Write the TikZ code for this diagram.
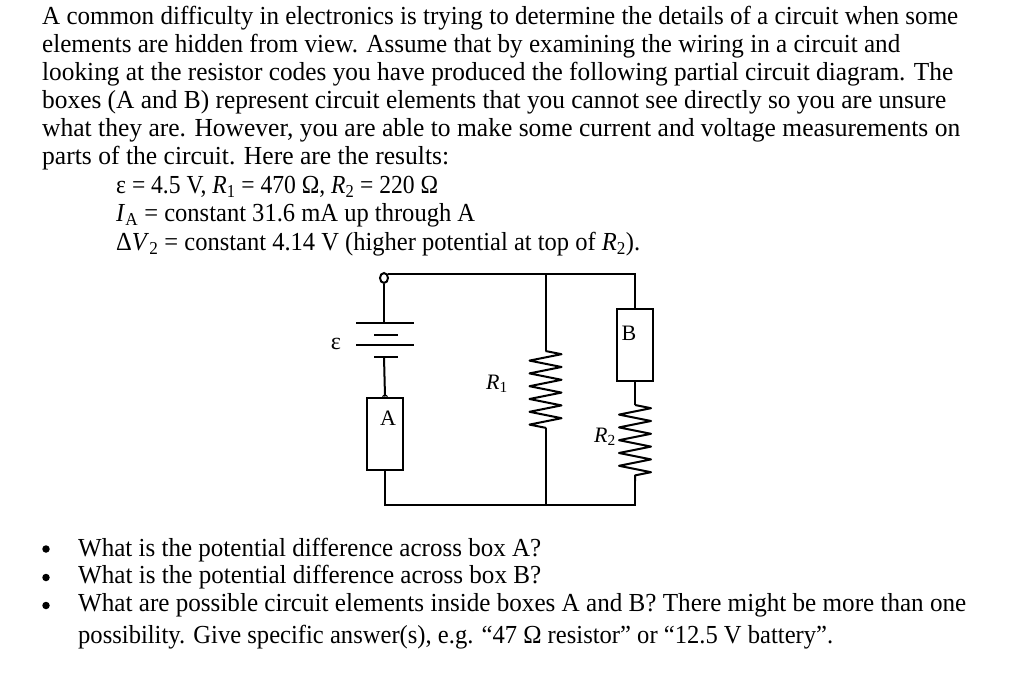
\documentclass[tikz,border=0pt]{standalone}
\usepackage{graphicx}
\usepackage{fontspec}
\setmainfont{Liberation Serif}
\usetikzlibrary{positioning,shapes.geometric}
\usetikzlibrary{decorations.pathmorphing}
\tikzset{
    wire/.style={draw=black, line width=2pt},
    resistor/.style={wire, decorate, line join=round,
        decoration={zigzag, amplitude=16pt, segment length=12.8pt}},
    plate/.style={wire},
    box/.style={wire, draw, rectangle, inner sep=0pt, minimum width=36pt},
    textline/.style={anchor=base west, inner sep=0pt, text=black,
        font=\fontsize{26}{28}\selectfont},
    cirlabel/.style={inner sep=0pt, text=black, font=\fontsize{22}{24}\selectfont},
    bullet/.style={circle, fill=black, inner sep=0pt, minimum size=7.5pt},
}
\newcommand{\fitline}[2]{\resizebox{#1pt}{\height}{#2}}
\newcommand{\ohm}{Ω}
\begin{document}
\begin{tikzpicture}[x=1pt, y=-1pt]
\useasboundingbox (0,0) rectangle (1024,692);
% intro
\node[textline] (introa) at (42,25) {\fitline{916}{A common difficulty in electronics is trying to determine the details of a circuit when some}};
\node[textline] (introb) at (42,53) {\fitline{858}{elements are hidden from view. Assume that by examining the wiring in a circuit and}};
\node[textline] (introc) at (42,81) {\fitline{911}{looking at the resistor codes you have produced the following partial circuit diagram.  The}};
\node[textline] (introd) at (42,109) {\fitline{904}{boxes (A and B) represent circuit elements that you cannot see directly so you are unsure}};
\node[textline] (introe) at (42,137) {\fitline{918}{what they are.  However, you are able to make some current and voltage measurements on}};
\node[textline] (introf) at (42,165) {\fitline{407}{parts of the circuit.  Here are the results:}};
% values
\node[textline] (vala) at (116,194) {\fitline{322}{ε = 4.5 V, \textit{R}\textsubscript{1} = 470 \ohm, \textit{R}\textsubscript{2} = 220 \ohm}};
\node[textline] (valb) at (116,222) {\fitline{359}{\textit{I}\textsubscript{A} =  constant 31.6 mA up through A}};
\node[textline] (valc) at (116,251) {\fitline{524}{Δ\textit{V}\textsubscript{2} = constant 4.14 V (higher potential at top of \textit{R}\textsubscript{2}).}};
% circuit
\coordinate (topl) at (384,274);
\coordinate (topm) at (545.5,274);
\coordinate (topr) at (635,274);
\coordinate (botl) at (384,505);
\coordinate (botm) at (545.5,505);
\coordinate (botr) at (635,505);
\node[wire, draw, fill=white, ellipse, inner sep=0pt, minimum width=8pt, minimum height=10pt] (post) at (384,278) {};
\coordinate (bump) at (385,397.5);
\draw[draw=black, line width=1pt] (bump) circle (2.5pt);
\node[box, fill=white, minimum height=72pt] (boxA) at (385,433.5) {};
\node[box, minimum height=72pt] (boxB) at (635,345) {};
\coordinate (rao) at (545.5,351);
\coordinate (rau) at (545.5,428);
\coordinate (rbo) at (635,405);
\coordinate (rbu) at (635,481);
\coordinate (plaa) at (384,323);
\coordinate (plad) at (384,357);
\draw[plate] (356,323) -- (414,323);
\draw[plate] (374,335) -- (398,335);
\draw[plate] (356,345) -- (414,345);
\draw[plate] (374,357) -- (398,357);
\draw[wire] (post.north east) -- (topl -| post.north east) -- (topr) -- (boxB.north);
\draw[wire] (post) -- (plaa);
\draw[wire] (plad) -- (boxA.north);
\draw[wire] (boxA.south) -- (boxA.south |- botl) -- (botr) -- (rbu);
\draw[wire] (topm) -- (rao);
\draw[resistor] (rao) -- (rau);
\draw[wire] (rau) -- (botm);
\draw[wire] (boxB.south) -- (rbo);
\draw[resistor] (rbo) -- (rbu);
\node[cirlabel] (emf) at (336,344) {\fontsize{24}{26}\selectfont ε};
\node[cirlabel] (labA) at (388,418) {A};
\node[cirlabel] (labB) at (629,333) {B};
\node[cirlabel] (labRa) at (497,384) {\textit{R}\textsubscript{1}};
\node[cirlabel] (labRb) at (605,437) {\textit{R}\textsubscript{2}};
% questions
\node[bullet] (bula) at (46,549) {};
\node[bullet] (bulb) at (46,577.5) {};
\node[bullet] (bulc) at (46,605.5) {};
\node[textline] (quesa) at (78,556) {\fitline{463}{What is the potential difference across box A?}};
\node[textline] (quesb) at (78,583.5) {\fitline{463}{What is the potential difference across box B?}};
\node[textline] (quesc) at (78,611.5) {\fitline{888}{What are possible circuit elements inside boxes A and B? There might be more than one}};
\node[textline] (quesd) at (78,643) {\fitline{755}{possibility.  Give specific answer(s), e.g. “47 \ohm{} resistor” or “12.5 V battery”.}};
\end{tikzpicture}
\end{document}
